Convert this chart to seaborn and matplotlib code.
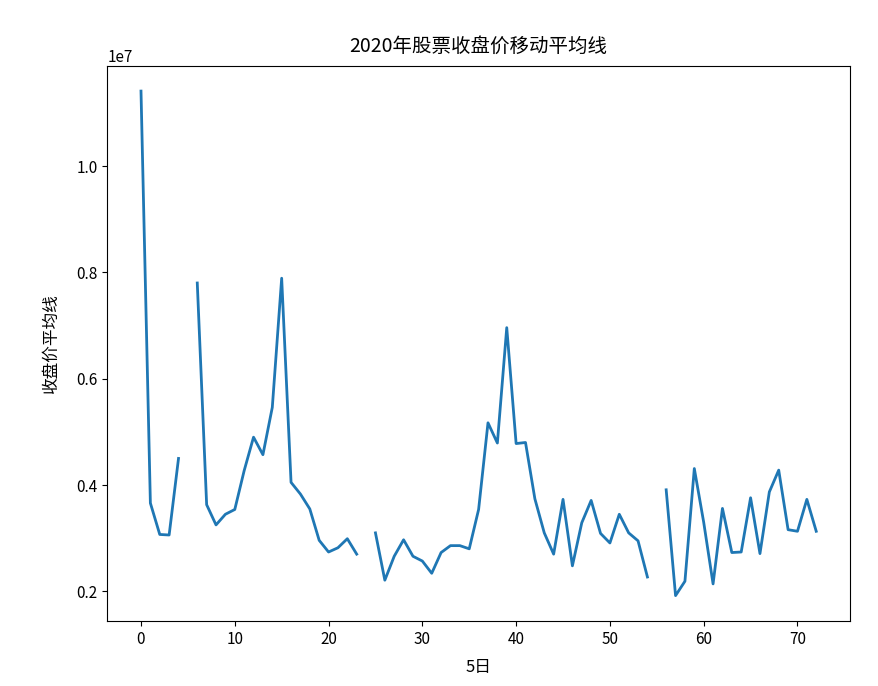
import numpy as np
import pandas as pd
import matplotlib
matplotlib.use("Agg")
import matplotlib.pyplot as plt
import seaborn as sns

# 5日移动平均（单位 1e7），缺失值处断开
days = list(range(73))
ma5 = [1.141, 0.366, 0.307, 0.306, 0.450, np.nan, 0.780, 0.363, 0.325, 0.345,
       0.354, 0.427, 0.490, 0.457, 0.546, 0.789, 0.405, 0.383, 0.355, 0.296,
       0.274, 0.282, 0.299, 0.270, np.nan, 0.310, 0.221, 0.266, 0.297, 0.266,
       0.257, 0.234, 0.273, 0.286, 0.286, 0.280, 0.354, 0.517, 0.479, 0.696,
       0.478, 0.480, 0.374, 0.310, 0.270, 0.373, 0.248, 0.329, 0.371, 0.309,
       0.291, 0.345, 0.310, 0.295, 0.227, np.nan, 0.391, 0.192, 0.219, 0.431,
       0.330, 0.214, 0.356, 0.273, 0.274, 0.376, 0.271, 0.387, 0.428, 0.316,
       0.313, 0.373, 0.313]

df = pd.DataFrame({"day": days, "ma": np.array(ma5) * 1e7})

plt.rcParams['font.family'] = ['Noto Sans CJK SC', 'DejaVu Sans']
plt.rcParams['axes.unicode_minus'] = False

fig, ax = plt.subplots(figsize=(8.79, 6.86), dpi=100)
fig.subplots_adjust(left=0.122, right=0.967, top=0.904, bottom=0.095)

# 用 ax.plot 保留 NaN 断点
ax.plot(df["day"], df["ma"], color=sns.color_palette()[0], linewidth=2)

ax.set_title("2020年股票收盘价移动平均线", fontsize=14, pad=10)
ax.set_xlabel("5日", fontsize=12, labelpad=8)
ax.set_ylabel("收盘价平均线", fontsize=12, labelpad=12)
ax.tick_params(labelsize=11)
ax.set_yticks([2e6, 4e6, 6e6, 8e6, 1e7])
ax.yaxis.get_offset_text().set_fontsize(11)

plt.savefig("out.png")
